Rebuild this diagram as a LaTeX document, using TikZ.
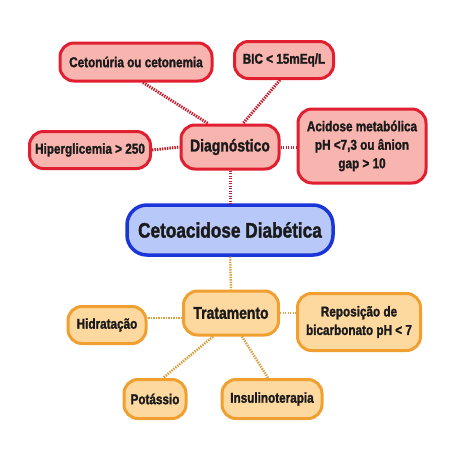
\documentclass[tikz,border=0pt]{standalone}
\usepackage{fontspec}
\setmainfont{Liberation Sans}[FakeStretch=0.82, BoldFeatures={FakeBold=1.5}]
\definecolor{redb}{HTML}{E02030}
\definecolor{redf}{HTML}{F8B4AE}
\definecolor{redl}{HTML}{C41E2E}
\definecolor{blueb}{HTML}{1A35D8}
\definecolor{bluef}{HTML}{B8C8F8}
\definecolor{orb}{HTML}{F0A030}
\definecolor{orf}{HTML}{FDD9A0}
\definecolor{orl}{HTML}{D8A040}
\definecolor{txt}{HTML}{1A1A1A}
\tikzset{
  box/.style={rectangle, rounded corners=14pt, align=center, text=txt, font=\bfseries\fontsize{14.3}{18.5}\selectfont, inner sep=2pt},
  redbox/.style={box, draw=redb, fill=redf, line width=3pt},
  orbox/.style={box, draw=orb, fill=orf, line width=3pt},
  bluebox/.style={box, draw=blueb, fill=bluef, line width=3.5pt, rounded corners=20pt},
  redline/.style={draw=redl, line width=3pt, dash pattern=on 1.4pt off 1.1pt},
  orline/.style={draw=orl, line width=2.5pt, dash pattern=on 1.4pt off 1.1pt},
}
\begin{document}
\begin{tikzpicture}[x=1pt,y=-1pt]
\useasboundingbox[fill=white] (0,0) rectangle (458,458);
% nodes
\node[redbox, minimum width=152pt, minimum height=38pt] (cet) at (136,62) {Cetonúria ou cetonemia};
\node[redbox, minimum width=99pt, minimum height=37pt] (bic) at (284,60) {BIC < 15mEq/L};
\node[redbox, minimum width=121pt, minimum height=37pt] (hip) at (90,150) {Hiperglicemia > 250};
\node[redbox, minimum width=98pt, minimum height=44pt, font=\bfseries\fontsize{17}{20}\selectfont] (diag) at (230,147) {Diagnóstico};
\node[redbox, minimum width=128pt, minimum height=74pt] (acid) at (362,146) {Acidose metabólica\\pH <7,3 ou ânion\\gap > 10};
\node[bluebox, minimum width=206pt, minimum height=50pt, font=\bfseries\fontsize{21}{24}\selectfont] (cad) at (230,230) {Cetoacidose Diabética};
\node[orbox, minimum width=95pt, minimum height=44pt, font=\bfseries\fontsize{17}{20}\selectfont] (trat) at (231,313) {Tratamento};
\node[orbox, minimum width=78pt, minimum height=37pt] (hid) at (107,325) {Hidratação};
\node[orbox, minimum width=123pt, minimum height=57pt] (rep) at (359,322) {Reposição de\\bicarbonato pH < 7};
\node[orbox, minimum width=62pt, minimum height=39pt] (pot) at (155,399) {Potássio};
\node[orbox, minimum width=100pt, minimum height=39pt] (ins) at (272,399) {Insulinoterapia};
\coordinate (tw) at ([yshift=-5pt]trat.west);
% connectors
\draw[redline] ([xshift=7pt]cet.south) -- ([xshift=-22pt]diag.north);
\draw[redline] ([xshift=-4pt]bic.south) -- ([xshift=13pt]diag.north);
\draw[redline] (hip.east) -- (diag.west);
\draw[redline] (diag.east) -- (acid.west |- diag.east);
\draw[redline] (diag.south) -- (cad.north);
\draw[orline] (cad.south) -- (trat.north);
\draw[orline] (tw) -- (hid.east |- tw);
\draw[orline] (trat.east) -- (rep.west |- trat.east);
\draw[orline] ([xshift=-18pt]trat.south) -- ([xshift=8pt]pot.north);
\draw[orline] ([xshift=11pt]trat.south) -- ([xshift=-4pt]ins.north);
\end{tikzpicture}
\end{document}
